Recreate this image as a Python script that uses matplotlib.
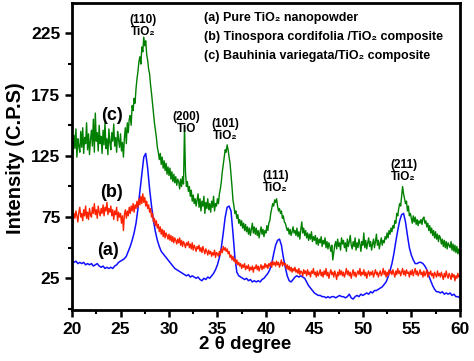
import numpy as np
import matplotlib
matplotlib.use('Agg')
import matplotlib.pyplot as plt
from matplotlib.ticker import MultipleLocator

plt.rcParams['font.family'] = ['Liberation Sans', 'DejaVu Sans']
plt.rcParams['font.weight'] = 'bold'

# 2 theta grids: 0.2 deg for the smooth pure TiO2 scan, 0.1 deg for the noisy composites
two_theta_a = np.round(np.arange(20.0, 60.01, 0.2), 1)
two_theta_bc = np.round(np.arange(20.0, 60.01, 0.1), 1)

# (a) Pure TiO2 nanopowder
pure_tio2 = [
    40, 38, 39, 37, 38, 37, 38, 36, 37, 36,
    37, 35, 36, 37, 35, 34, 35, 33, 34, 33,
    34, 33, 35, 36, 38, 39, 40, 41, 43, 47,
    51, 56, 62, 70, 82, 96, 110, 124, 127, 115,
    98, 84, 72, 63, 56, 51, 47, 45, 43, 41,
    39, 37, 35, 33, 32, 31, 30, 29, 28, 27,
    28, 26, 27, 26, 25, 26, 24, 23, 25, 24,
    26, 25, 27, 29, 32, 36, 42, 50, 62, 75,
    83, 84, 80, 62, 42, 30, 27, 26, 25, 24,
    25, 23, 24, 22, 23, 22, 23, 22, 24, 25,
    27, 29, 32, 37, 45, 52, 56, 57, 52, 42,
    34, 27, 23, 22, 24, 26, 27, 26, 27, 26,
    25, 22, 19, 17, 15, 13, 12, 11, 11, 10,
    10, 9, 10, 9, 10, 10, 9, 10, 11, 10,
    10, 9, 10, 12, 9, 8, 10, 11, 10, 12,
    11, 12, 13, 12, 14, 13, 15, 15, 16, 17,
    18, 20, 22, 26, 31, 37, 45, 55, 64, 72,
    77, 78, 71, 60, 50, 44, 40, 37, 37, 38,
    38, 37, 35, 32, 27, 23, 19, 16, 14, 14,
    13, 14, 12, 13, 12, 13, 11, 12, 10, 10,
    9,
]

# (b) Tinospora cordifolia / TiO2 composite (one row per degree)
tinospora = [
    60, 72, 78, 74, 80, 76, 71, 79, 83, 75,
    78, 72, 81, 76, 84, 74, 79, 73, 82, 77,
    75, 83, 78, 86, 77, 81, 74, 84, 79, 76,
    82, 78, 85, 76, 83, 80, 87, 77, 82, 79,
    84, 76, 81, 73, 80, 77, 83, 72, 79, 75,
    78, 70, 76, 64, 77, 81, 74, 80, 76, 83,
    78, 84, 80, 86, 79, 85, 82, 88, 83, 90,
    85, 92, 86, 94, 87, 91, 84, 88, 82, 85,
    79, 82, 75, 78, 71, 74, 68, 72, 66, 69,
    63, 67, 61, 65, 59, 64, 58, 62, 60, 57,
    61, 56, 60, 55, 59, 54, 58, 56, 53, 57,
    54, 58, 52, 56, 51, 55, 53, 50, 54, 52,
    55, 50, 53, 49, 54, 48, 52, 50, 47, 51,
    49, 52, 47, 50, 46, 51, 48, 45, 49, 47,
    44, 48, 45, 47, 43, 46, 44, 48, 42, 46,
    45, 43, 47, 44, 49, 46, 51, 48, 50, 47,
    49, 45, 47, 42, 44, 40, 43, 39, 41, 37,
    40, 36, 38, 35, 37, 33, 36, 34, 37, 32,
    35, 33, 36, 31, 34, 32, 35, 30, 34, 33,
    36, 32, 35, 31, 34, 36, 32, 35, 33, 37,
    34, 36, 33, 37, 35, 38, 34, 39, 36, 38,
    35, 39, 36, 38, 34, 37, 40, 35, 38, 36,
    37, 33, 36, 32, 35, 31, 34, 30, 33, 31,
    34, 30, 32, 29, 33, 28, 31, 30, 27, 32,
    29, 31, 27, 32, 28, 30, 26, 31, 29, 33,
    28, 30, 26, 31, 27, 29, 32, 27, 30, 26,
    31, 28, 33, 27, 30, 25, 29, 32, 28, 30,
    26, 31, 28, 24, 30, 27, 32, 28, 31, 27,
    30, 26, 29, 33, 28, 31, 27, 30, 25, 29,
    32, 27, 30, 26, 29, 31, 28, 33, 27, 30,
    28, 32, 27, 30, 25, 29, 31, 27, 30, 28,
    31, 26, 29, 32, 28, 30, 26, 29, 31, 27,
    29, 33, 28, 31, 26, 30, 27, 32, 29, 31,
    28, 32, 29, 26, 31, 28, 33, 29, 31, 27,
    30, 33, 28, 31, 27, 32, 29, 30, 26, 31,
    28, 32, 27, 30, 33, 28, 31, 27, 29, 32,
    28, 30, 26, 31, 27, 29, 32, 26, 30, 28,
    31, 27, 29, 25, 30, 28, 26, 31, 27, 29,
    26, 30, 27, 24, 29, 26, 31, 27, 25, 29,
    27, 24, 29, 26, 28, 23, 27, 25, 29, 26,
    27,
]

# (c) Bauhinia variegata / TiO2 composite (one row per degree)
bauhinia = [
    150, 126, 142, 131, 147, 124, 139, 133, 128, 145,
    132, 148, 127, 140, 135, 152, 130, 143, 126, 138,
    146, 133, 155, 128, 160, 137, 144, 129, 150, 135,
    141, 127, 146, 134, 152, 131, 139, 126, 147, 136,
    130, 144, 137, 151, 133, 140, 128, 145, 138, 132,
    143, 129, 136, 124, 140, 148, 135, 152, 144, 155,
    158, 150, 166, 162, 172, 168, 180, 188, 194, 202,
    206, 200, 214, 210, 222, 215, 219, 208, 203, 196,
    192, 183, 176, 168, 160, 152, 146, 140, 132, 128,
    122, 127, 118, 124, 115, 121, 113, 119, 110, 116,
    109, 115, 106, 112, 104, 110, 103, 108, 101, 106,
    104, 98, 106, 100, 108, 102, 149, 112, 100, 104,
    96, 100, 92, 97, 88, 93, 86, 90, 84, 89,
    94, 83, 90, 80, 88, 84, 92, 78, 87, 82,
    90, 81, 86, 79, 88, 83, 92, 80, 86, 84,
    90, 86, 94, 98, 104, 112, 118, 124, 130, 128,
    134, 130, 124, 119, 110, 100, 89, 84, 78, 80,
    74, 77, 70, 73, 68, 72, 66, 70, 64, 69,
    63, 67, 61, 66, 60, 65, 70, 62, 67, 61,
    66, 60, 64, 58, 63, 67, 61, 65, 59, 64,
    62, 68, 64, 70, 72, 78, 82, 86, 84, 89,
    87, 90, 84, 80, 82, 78, 80, 74, 76, 71,
    70, 67, 64, 66, 61, 65, 60, 63, 67, 62,
    64, 60, 66, 59, 63, 57, 65, 71, 62, 66,
    60, 64, 58, 62, 56, 61, 57, 63, 55, 59,
    56, 60, 53, 58, 52, 57, 54, 59, 51, 56,
    53, 58, 50, 55, 49, 54, 51, 47, 52, 40,
    46, 52, 55, 49, 57, 51, 54, 48, 58, 53,
    56, 50, 54, 47, 57, 51, 55, 60, 52, 49,
    55, 51, 58, 48, 54, 50, 57, 53, 47, 55,
    52, 62, 50, 56, 49, 54, 58, 51, 55, 48,
    53, 57, 50, 55, 61, 52, 56, 49, 54, 58,
    52, 56, 54, 59, 57, 62, 58, 64, 61, 66,
    63, 68, 66, 72, 70, 78, 76, 82, 86, 84,
    92, 100, 94, 90, 86, 88, 80, 84, 76, 78,
    74, 70, 76, 71, 75, 69, 73, 68, 72, 70,
    73, 69, 74, 75, 70, 72, 67, 70, 64, 68,
    62, 66, 60, 64, 58, 63, 57, 61, 55, 60,
    58, 53, 57, 51, 56, 50, 55, 49, 54, 52,
    50, 55, 48, 53, 47, 52, 46, 51, 45, 49,
    44,
]

peak_labels = ['(110)\nTiO\u2082', '(200)\nTiO', '(101)\nTiO\u2082', '(111)\nTiO\u2082', '(211)\nTiO\u2082']
peak_x = [27.3, 31.8, 35.8, 41.0, 54.2]
peak_y = [231, 152, 146, 104, 113]

legend_lines = ['(a) Pure TiO\u2082 nanopowder',
                '(b) Tinospora cordifolia /TiO\u2082 composite',
                '(c) Bauhinia variegata/TiO\u2082 composite']

fig = plt.figure(figsize=(4.74, 3.61), dpi=100)
ax = fig.add_axes([0.152, 0.141, 0.818, 0.851])

ax.plot(two_theta_a, pure_tio2, color='#1010ff', lw=1.1)
ax.plot(two_theta_bc, tinospora, color='#ff2200', lw=1.0)
ax.plot(two_theta_bc, bauhinia, color='#008000', lw=1.0)

ax.set_xlim(20, 60)
ax.set_ylim(-1, 250)
ax.xaxis.set_major_locator(MultipleLocator(5))
ax.xaxis.set_minor_locator(MultipleLocator(2.5))
ax.set_yticks([25, 75, 125, 175, 225])
ax.set_yticks([0, 50, 100, 150, 200], minor=True)
ax.tick_params(which='major', direction='out', length=5, width=1.8, labelsize=12.5)
ax.tick_params(which='minor', direction='out', length=3, width=1.5)
for lab in ax.get_xticklabels() + ax.get_yticklabels():
    lab.set_fontweight('bold')
for sp in ax.spines.values():
    sp.set_linewidth(2)

ax.set_xlabel('2 \u03b8 degree', fontsize=13.5, fontweight='bold')
ax.xaxis.set_label_coords(0.446, -0.085)
ax.set_ylabel('Intensity (C.P.S)', fontsize=14.5, fontweight='bold')
ax.yaxis.set_label_coords(-0.122, 0.495)

for txt, x, y in zip(peak_labels, peak_x, peak_y):
    ax.text(x, y, txt, ha='center', va='center', fontsize=8.5, fontweight='bold', linespacing=1.0)

ax.text(24.1, 158, '(c)', ha='center', va='center', fontsize=13, fontweight='bold')
ax.text(24.1, 95, '(b)', ha='center', va='center', fontsize=13, fontweight='bold')
ax.text(23.7, 48, '(a)', ha='center', va='center', fontsize=13, fontweight='bold')

for txt, y in zip(legend_lines, [238, 222, 207]):
    ax.text(33.6, y, txt, ha='left', va='center', fontsize=9, fontweight='bold')

fig.savefig('out.png', dpi=100)
